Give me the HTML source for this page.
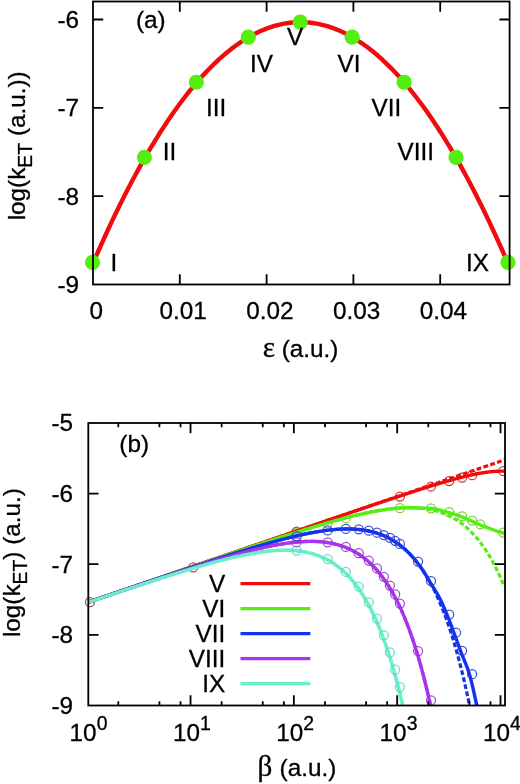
<!DOCTYPE html>
<html><head><meta charset="utf-8"><title>Figure</title>
<style>
html,body{margin:0;padding:0;background:#fff;}
body{width:520px;height:784px;overflow:hidden;}
svg{display:block;}
text{font-family:"Liberation Sans",sans-serif;font-size:24.3px;fill:#000;stroke:#000;stroke-width:0.3px;}
.sym{font-family:"Liberation Serif",serif;}
.ax{stroke:#000;stroke-width:1.8;fill:none;}
</style></head><body>
<svg width="520" height="784" viewBox="0 0 520 784">
<rect x="0" y="0" width="520" height="784" fill="#fff"/>

<g id="plot-a">
<path d="M93.40,262.46 L95.47,257.68 L97.54,252.95 L99.61,248.26 L101.68,243.62 L103.75,239.03 L105.82,234.49 L107.90,230.00 L109.97,225.55 L112.04,221.15 L114.11,216.80 L116.18,212.50 L118.25,208.25 L120.32,204.04 L122.39,199.89 L124.46,195.78 L126.53,191.71 L128.60,187.70 L130.67,183.74 L132.74,179.82 L134.81,175.95 L136.89,172.13 L138.96,168.36 L141.03,164.63 L143.10,160.95 L145.17,157.33 L147.24,153.75 L149.31,150.21 L151.38,146.73 L153.45,143.29 L155.52,139.90 L157.59,136.56 L159.66,133.27 L161.73,130.03 L163.80,126.83 L165.88,123.68 L167.95,120.58 L170.02,117.53 L172.09,114.53 L174.16,111.57 L176.23,108.66 L178.30,105.80 L180.37,102.99 L182.44,100.23 L184.51,97.51 L186.58,94.84 L188.65,92.23 L190.72,89.65 L192.79,87.13 L194.87,84.66 L196.94,82.23 L199.01,79.85 L201.08,77.52 L203.15,75.24 L205.22,73.00 L207.29,70.81 L209.36,68.67 L211.43,66.58 L213.50,64.54 L215.57,62.55 L217.64,60.60 L219.71,58.70 L221.78,56.85 L223.86,55.05 L225.93,53.29 L228.00,51.59 L230.07,49.93 L232.14,48.32 L234.21,46.76 L236.28,45.24 L238.35,43.78 L240.42,42.36 L242.49,40.99 L244.56,39.67 L246.63,38.40 L248.70,37.17 L250.77,35.99 L252.85,34.86 L254.92,33.78 L256.99,32.75 L259.06,31.76 L261.13,30.83 L263.20,29.94 L265.27,29.10 L267.34,28.30 L269.41,27.56 L271.48,26.86 L273.55,26.21 L275.62,25.61 L277.69,25.06 L279.76,24.55 L281.84,24.10 L283.91,23.69 L285.98,23.33 L288.05,23.02 L290.12,22.75 L292.19,22.53 L294.26,22.37 L296.33,22.25 L298.40,22.17 L300.47,22.15 L302.54,22.17 L304.61,22.25 L306.68,22.37 L308.75,22.53 L310.83,22.75 L312.90,23.02 L314.97,23.33 L317.04,23.69 L319.11,24.10 L321.18,24.55 L323.25,25.06 L325.32,25.61 L327.39,26.21 L329.46,26.86 L331.53,27.56 L333.60,28.30 L335.67,29.10 L337.74,29.94 L339.82,30.83 L341.89,31.76 L343.96,32.75 L346.03,33.78 L348.10,34.86 L350.17,35.99 L352.24,37.17 L354.31,38.40 L356.38,39.67 L358.45,40.99 L360.52,42.36 L362.59,43.78 L364.66,45.24 L366.74,46.76 L368.81,48.32 L370.88,49.93 L372.95,51.59 L375.02,53.29 L377.09,55.05 L379.16,56.85 L381.23,58.70 L383.30,60.60 L385.37,62.55 L387.44,64.54 L389.51,66.58 L391.58,68.67 L393.65,70.81 L395.73,73.00 L397.80,75.24 L399.87,77.52 L401.94,79.85 L404.01,82.23 L406.08,84.66 L408.15,87.13 L410.22,89.65 L412.29,92.23 L414.36,94.84 L416.43,97.51 L418.50,100.23 L420.57,102.99 L422.64,105.80 L424.72,108.66 L426.79,111.57 L428.86,114.53 L430.93,117.53 L433.00,120.58 L435.07,123.68 L437.14,126.83 L439.21,130.03 L441.28,133.27 L443.35,136.56 L445.42,139.90 L447.49,143.29 L449.56,146.73 L451.63,150.21 L453.71,153.75 L455.78,157.33 L457.85,160.95 L459.92,164.63 L461.99,168.36 L464.06,172.13 L466.13,175.95 L468.20,179.82 L470.27,183.74 L472.34,187.70 L474.41,191.71 L476.48,195.78 L478.55,199.89 L480.62,204.04 L482.70,208.25 L484.77,212.50 L486.84,216.80 L488.91,221.15 L490.98,225.55 L493.05,230.00 L495.12,234.49 L497.19,239.03 L499.26,243.62 L501.33,248.26 L503.40,252.95 L505.47,257.68 L507.54,262.46" fill="none" stroke="#f00c0c" stroke-width="4.4" stroke-linejoin="round"/>
<circle cx="92.50" cy="262.46" r="7.6" fill="#55ee11"/>
<circle cx="144.43" cy="157.33" r="7.6" fill="#55ee11"/>
<circle cx="196.36" cy="82.23" r="7.6" fill="#55ee11"/>
<circle cx="248.29" cy="37.17" r="7.6" fill="#55ee11"/>
<circle cx="300.22" cy="22.15" r="7.6" fill="#55ee11"/>
<circle cx="352.15" cy="37.17" r="7.6" fill="#55ee11"/>
<circle cx="404.08" cy="82.23" r="7.6" fill="#55ee11"/>
<circle cx="456.01" cy="157.33" r="7.6" fill="#55ee11"/>
<circle cx="507.94" cy="262.46" r="7.6" fill="#55ee11"/>
<rect class="ax" x="93.0" y="1.5" width="416.6" height="283.0"/>
<path class="ax" d="M93.0,19.50h10.2M509.6,19.50h-10.2M93.0,107.85h10.2M509.6,107.85h-10.2M93.0,196.20h10.2M509.6,196.20h-10.2M179.80,284.5v-10.2M179.80,1.5v10.2M266.60,284.5v-10.2M266.60,1.5v10.2M353.40,284.5v-10.2M353.40,1.5v10.2M440.20,284.5v-10.2M440.20,1.5v10.2"/>
<text x="79" y="27.8" text-anchor="end">-6</text>
<text x="79" y="116.1" text-anchor="end">-7</text>
<text x="79" y="204.5" text-anchor="end">-8</text>
<text x="79" y="292.8" text-anchor="end">-9</text>
<text x="96.3" y="319" text-anchor="middle">0</text>
<text x="183.1" y="319" text-anchor="middle">0.01</text>
<text x="269.9" y="319" text-anchor="middle">0.02</text>
<text x="356.7" y="319" text-anchor="middle">0.03</text>
<text x="443.5" y="319" text-anchor="middle">0.04</text>
<text x="110.5" y="270.8">I</text>
<text x="162.7" y="160">II</text>
<text x="206" y="115.8">III</text>
<text x="250" y="71.8">IV</text>
<text x="287" y="44.6">V</text>
<text x="337.5" y="71.8">VI</text>
<text x="371.5" y="115.8">VII</text>
<text x="397.5" y="160">VIII</text>
<text x="466" y="270.8">IX</text>
<text x="136" y="27.5">(a)</text>
<text transform="translate(25.2,220.3) rotate(-90)">log(k<tspan font-size="19.4" dy="7">ET</tspan><tspan dy="-7"> (a.u.))</tspan></text>
<text x="300.5" y="356.5" text-anchor="middle"><tspan class="sym" font-size="29.2">ε</tspan> (a.u.)</text>
</g>
<g id="plot-b">
<clipPath id="cb"><rect x="88.3" y="423.0" width="416.7" height="282.5"/></clipPath>
<g fill="none" stroke="#a03858" stroke-width="1.25" opacity="0.9"><circle cx="89.90" cy="602.16" r="4.5"/><circle cx="193.23" cy="567.29" r="4.5"/></g>
<g clip-path="url(#cb)">
<g fill="none" stroke="#70cc30" stroke-width="1.25" opacity="0.9"><circle cx="296.56" cy="532.71" r="4.5"/><circle cx="327.67" cy="523.27" r="4.5"/><circle cx="345.86" cy="518.25" r="4.5"/><circle cx="399.89" cy="508.14" r="4.5"/><circle cx="431.00" cy="508.30" r="4.5"/><circle cx="449.19" cy="512.20" r="4.5"/><circle cx="462.10" cy="516.33" r="4.5"/><circle cx="472.11" cy="520.57" r="4.5"/><circle cx="480.30" cy="524.30" r="4.5"/><circle cx="503.22" cy="532.56" r="4.5"/></g>
<g fill="none" stroke="#d82020" stroke-width="1.25" opacity="0.9"><circle cx="296.56" cy="531.52" r="4.5"/><circle cx="399.89" cy="496.53" r="4.5"/><circle cx="431.00" cy="486.50" r="4.5"/><circle cx="449.19" cy="481.05" r="4.5"/><circle cx="462.10" cy="477.54" r="4.5"/><circle cx="472.11" cy="475.15" r="4.5"/><circle cx="503.22" cy="471.11" r="4.5"/></g>
<path d="M88.3,602.11 L89.3,601.77 L90.3,601.43 L91.3,601.09 L92.3,600.75 L93.3,600.40 L94.3,600.06 L95.3,599.72 L96.3,599.38 L97.3,599.04 L98.3,598.70 L99.3,598.35 L100.3,598.01 L101.3,597.67 L102.3,597.33 L103.3,596.99 L104.3,596.65 L105.3,596.30 L106.3,595.96 L107.3,595.62 L108.3,595.28 L109.3,594.94 L110.3,594.60 L111.3,594.25 L112.3,593.91 L113.3,593.57 L114.3,593.23 L115.3,592.89 L116.3,592.55 L117.3,592.21 L118.3,591.86 L119.3,591.52 L120.3,591.18 L121.3,590.84 L122.3,590.50 L123.3,590.16 L124.3,589.81 L125.3,589.47 L126.3,589.13 L127.3,588.79 L128.3,588.45 L129.3,588.11 L130.3,587.76 L131.3,587.42 L132.3,587.08 L133.3,586.74 L134.3,586.40 L135.3,586.06 L136.3,585.71 L137.3,585.37 L138.3,585.03 L139.3,584.69 L140.3,584.35 L141.3,584.01 L142.3,583.66 L143.3,583.32 L144.3,582.98 L145.3,582.64 L146.3,582.30 L147.3,581.96 L148.3,581.61 L149.3,581.27 L150.3,580.93 L151.3,580.59 L152.3,580.25 L153.3,579.91 L154.3,579.57 L155.3,579.22 L156.3,578.88 L157.3,578.54 L158.3,578.20 L159.3,577.86 L160.3,577.52 L161.3,577.17 L162.3,576.83 L163.3,576.49 L164.3,576.15 L165.3,575.81 L166.3,575.47 L167.3,575.12 L168.3,574.78 L169.3,574.44 L170.3,574.10 L171.3,573.76 L172.3,573.42 L173.3,573.07 L174.3,572.73 L175.3,572.39 L176.3,572.05 L177.3,571.71 L178.3,571.37 L179.3,571.02 L180.3,570.68 L181.3,570.34 L182.3,570.00 L183.3,569.66 L184.3,569.32 L185.3,568.97 L186.3,568.63 L187.3,568.29 L188.3,567.95 L189.3,567.61 L190.3,567.27 L191.3,566.92 L192.3,566.58 L193.3,566.24 L194.3,565.90 L195.3,565.56 L196.3,565.22 L197.3,564.88 L198.3,564.53 L199.3,564.19 L200.3,563.85 L201.3,563.51 L202.3,563.17 L203.3,562.83 L204.3,562.48 L205.3,562.14 L206.3,561.80 L207.3,561.46 L208.3,561.12 L209.3,560.78 L210.3,560.43 L211.3,560.09 L212.3,559.75 L213.3,559.41 L214.3,559.07 L215.3,558.73 L216.3,558.38 L217.3,558.04 L218.3,557.70 L219.3,557.36 L220.3,557.02 L221.3,556.68 L222.3,556.33 L223.3,555.99 L224.3,555.65 L225.3,555.31 L226.3,554.97 L227.3,554.63 L228.3,554.28 L229.3,553.94 L230.3,553.60 L231.3,553.26 L232.3,552.92 L233.3,552.58 L234.3,552.24 L235.3,551.89 L236.3,551.55 L237.3,551.21 L238.3,550.87 L239.3,550.53 L240.3,550.19 L241.3,549.84 L242.3,549.50 L243.3,549.16 L244.3,548.82 L245.3,548.48 L246.3,548.14 L247.3,547.79 L248.3,547.45 L249.3,547.11 L250.3,546.77 L251.3,546.43 L252.3,546.09 L253.3,545.74 L254.3,545.40 L255.3,545.06 L256.3,544.72 L257.3,544.38 L258.3,544.04 L259.3,543.69 L260.3,543.35 L261.3,543.01 L262.3,542.67 L263.3,542.33 L264.3,541.99 L265.3,541.64 L266.3,541.30 L267.3,540.96 L268.3,540.62 L269.3,540.28 L270.3,539.94 L271.3,539.60 L272.3,539.25 L273.3,538.91 L274.3,538.57 L275.3,538.23 L276.3,537.89 L277.3,537.55 L278.3,537.20 L279.3,536.86 L280.3,536.52 L281.3,536.18 L282.3,535.84 L283.3,535.50 L284.3,535.15 L285.3,534.81 L286.3,534.47 L287.3,534.13 L288.3,533.79 L289.3,533.45 L290.3,533.10 L291.3,532.76 L292.3,532.42 L293.3,532.08 L294.3,531.74 L295.3,531.40 L296.3,531.05 L297.3,530.71 L298.3,530.37 L299.3,530.03 L300.3,529.69 L301.3,529.35 L302.3,529.00 L303.3,528.66 L304.3,528.32 L305.3,527.98 L306.3,527.64 L307.3,527.30 L308.3,526.95 L309.3,526.61 L310.3,526.27 L311.3,525.93 L312.3,525.59 L313.3,525.25 L314.3,524.91 L315.3,524.56 L316.3,524.22 L317.3,523.88 L318.3,523.54 L319.3,523.20 L320.3,522.86 L321.3,522.51 L322.3,522.17 L323.3,521.83 L324.3,521.49 L325.3,521.15 L326.3,520.81 L327.3,520.46 L328.3,520.12 L329.3,519.78 L330.3,519.44 L331.3,519.10 L332.3,518.76 L333.3,518.41 L334.3,518.07 L335.3,517.73 L336.3,517.39 L337.3,517.05 L338.3,516.71 L339.3,516.36 L340.3,516.02 L341.3,515.68 L342.3,515.34 L343.3,515.00 L344.3,514.66 L345.3,514.31 L346.3,513.97 L347.3,513.63 L348.3,513.29 L349.3,512.95 L350.3,512.61 L351.3,512.27 L352.3,511.92 L353.3,511.58 L354.3,511.24 L355.3,510.90 L356.3,510.56 L357.3,510.22 L358.3,509.87 L359.3,509.53 L360.3,509.19 L361.3,508.85 L362.3,508.51 L363.3,508.17 L364.3,507.82 L365.3,507.48 L366.3,507.14 L367.3,506.80 L368.3,506.46 L369.3,506.12 L370.3,505.77 L371.3,505.43 L372.3,505.09 L373.3,504.75 L374.3,504.41 L375.3,504.07 L376.3,503.72 L377.3,503.38 L378.3,503.04 L379.3,502.70 L380.3,502.36 L381.3,502.02 L382.3,501.67 L383.3,501.33 L384.3,500.99 L385.3,500.65 L386.3,500.31 L387.3,499.97 L388.3,499.63 L389.3,499.28 L390.3,498.94 L391.3,498.60 L392.3,498.26 L393.3,497.92 L394.3,497.58 L395.3,497.23 L396.3,496.89 L397.3,496.55 L398.3,496.21 L399.3,495.87 L400.3,495.53 L401.3,495.18 L402.3,494.84 L403.3,494.50 L404.3,494.16 L405.3,493.82 L406.3,493.48 L407.3,493.13 L408.3,492.79 L409.3,492.45 L410.3,492.11 L411.3,491.77 L412.3,491.43 L413.3,491.08 L414.3,490.74 L415.3,490.40 L416.3,490.06 L417.3,489.72 L418.3,489.38 L419.3,489.03 L420.3,488.69 L421.3,488.35 L422.3,488.01 L423.3,487.67 L424.3,487.33 L425.3,486.98 L426.3,486.64 L427.3,486.30 L428.3,485.96 L429.3,485.62 L430.3,485.28 L431.3,484.94 L432.3,484.59 L433.3,484.25 L434.3,483.91 L435.3,483.57 L436.3,483.23 L437.3,482.89 L438.3,482.54 L439.3,482.20 L440.3,481.86 L441.3,481.52 L442.3,481.18 L443.3,480.84 L444.3,480.49 L445.3,480.15 L446.3,479.81 L447.3,479.47 L448.3,479.13 L449.3,478.79 L450.3,478.44 L451.3,478.10 L452.3,477.76 L453.3,477.42 L454.3,477.08 L455.3,476.74 L456.3,476.39 L457.3,476.05 L458.3,475.71 L459.3,475.37 L460.3,475.03 L461.3,474.69 L462.3,474.34 L463.3,474.00 L464.3,473.66 L465.3,473.32 L466.3,472.98 L467.3,472.64 L468.3,472.30 L469.3,471.95 L470.3,471.61 L471.3,471.27 L472.3,470.93 L473.3,470.59 L474.3,470.25 L475.3,469.90 L476.3,469.56 L477.3,469.22 L478.3,468.88 L479.3,468.54 L480.3,468.20 L481.3,467.85 L482.3,467.51 L483.3,467.17 L484.3,466.83 L485.3,466.49 L486.3,466.15 L487.3,465.80 L488.3,465.46 L489.3,465.12 L490.3,464.78 L491.3,464.44 L492.3,464.10 L493.3,463.75 L494.3,463.41 L495.3,463.07 L496.3,462.73 L497.3,462.39 L498.3,462.05 L499.3,461.70 L500.3,461.36 L501.3,461.02 L502.3,460.68 L503.3,460.34 L504.3,460.00" fill="none" stroke="#f00c0c" stroke-width="3.2" stroke-dasharray="4.8,2.4"/>
<path d="M88.3,602.12 L89.3,601.78 L90.3,601.44 L91.3,601.10 L92.3,600.76 L93.3,600.42 L94.3,600.08 L95.3,599.73 L96.3,599.39 L97.3,599.05 L98.3,598.71 L99.3,598.37 L100.3,598.03 L101.3,597.69 L102.3,597.35 L103.3,597.00 L104.3,596.66 L105.3,596.32 L106.3,595.98 L107.3,595.64 L108.3,595.30 L109.3,594.96 L110.3,594.62 L111.3,594.27 L112.3,593.93 L113.3,593.59 L114.3,593.25 L115.3,592.91 L116.3,592.57 L117.3,592.23 L118.3,591.89 L119.3,591.55 L120.3,591.20 L121.3,590.86 L122.3,590.52 L123.3,590.18 L124.3,589.84 L125.3,589.50 L126.3,589.16 L127.3,588.82 L128.3,588.48 L129.3,588.14 L130.3,587.79 L131.3,587.45 L132.3,587.11 L133.3,586.77 L134.3,586.43 L135.3,586.09 L136.3,585.75 L137.3,585.41 L138.3,585.07 L139.3,584.73 L140.3,584.39 L141.3,584.05 L142.3,583.70 L143.3,583.36 L144.3,583.02 L145.3,582.68 L146.3,582.34 L147.3,582.00 L148.3,581.66 L149.3,581.32 L150.3,580.98 L151.3,580.64 L152.3,580.30 L153.3,579.96 L154.3,579.62 L155.3,579.28 L156.3,578.94 L157.3,578.60 L158.3,578.26 L159.3,577.91 L160.3,577.57 L161.3,577.23 L162.3,576.89 L163.3,576.55 L164.3,576.21 L165.3,575.87 L166.3,575.53 L167.3,575.19 L168.3,574.85 L169.3,574.51 L170.3,574.17 L171.3,573.83 L172.3,573.49 L173.3,573.15 L174.3,572.81 L175.3,572.47 L176.3,572.13 L177.3,571.79 L178.3,571.45 L179.3,571.12 L180.3,570.78 L181.3,570.44 L182.3,570.10 L183.3,569.76 L184.3,569.42 L185.3,569.08 L186.3,568.74 L187.3,568.40 L188.3,568.06 L189.3,567.72 L190.3,567.38 L191.3,567.04 L192.3,566.70 L193.3,566.37 L194.3,566.03 L195.3,565.69 L196.3,565.35 L197.3,565.01 L198.3,564.67 L199.3,564.33 L200.3,564.00 L201.3,563.66 L202.3,563.32 L203.3,562.98 L204.3,562.64 L205.3,562.30 L206.3,561.97 L207.3,561.63 L208.3,561.29 L209.3,560.95 L210.3,560.61 L211.3,560.28 L212.3,559.94 L213.3,559.60 L214.3,559.27 L215.3,558.93 L216.3,558.59 L217.3,558.25 L218.3,557.92 L219.3,557.58 L220.3,557.24 L221.3,556.91 L222.3,556.57 L223.3,556.23 L224.3,555.90 L225.3,555.56 L226.3,555.23 L227.3,554.89 L228.3,554.55 L229.3,554.22 L230.3,553.88 L231.3,553.55 L232.3,553.21 L233.3,552.88 L234.3,552.54 L235.3,552.21 L236.3,551.87 L237.3,551.54 L238.3,551.21 L239.3,550.87 L240.3,550.54 L241.3,550.20 L242.3,549.87 L243.3,549.54 L244.3,549.20 L245.3,548.87 L246.3,548.54 L247.3,548.21 L248.3,547.87 L249.3,547.54 L250.3,547.21 L251.3,546.88 L252.3,546.55 L253.3,546.22 L254.3,545.88 L255.3,545.55 L256.3,545.22 L257.3,544.89 L258.3,544.56 L259.3,544.23 L260.3,543.90 L261.3,543.57 L262.3,543.25 L263.3,542.92 L264.3,542.59 L265.3,542.26 L266.3,541.93 L267.3,541.61 L268.3,541.28 L269.3,540.95 L270.3,540.63 L271.3,540.30 L272.3,539.97 L273.3,539.65 L274.3,539.32 L275.3,539.00 L276.3,538.67 L277.3,538.35 L278.3,538.03 L279.3,537.70 L280.3,537.38 L281.3,537.06 L282.3,536.74 L283.3,536.42 L284.3,536.09 L285.3,535.77 L286.3,535.45 L287.3,535.13 L288.3,534.82 L289.3,534.50 L290.3,534.18 L291.3,533.86 L292.3,533.55 L293.3,533.23 L294.3,532.91 L295.3,532.60 L296.3,532.28 L297.3,531.97 L298.3,531.66 L299.3,531.34 L300.3,531.03 L301.3,530.72 L302.3,530.41 L303.3,530.10 L304.3,529.79 L305.3,529.48 L306.3,529.17 L307.3,528.87 L308.3,528.56 L309.3,528.26 L310.3,527.95 L311.3,527.65 L312.3,527.34 L313.3,527.04 L314.3,526.74 L315.3,526.44 L316.3,526.14 L317.3,525.84 L318.3,525.55 L319.3,525.25 L320.3,524.95 L321.3,524.66 L322.3,524.37 L323.3,524.07 L324.3,523.78 L325.3,523.49 L326.3,523.20 L327.3,522.92 L328.3,522.63 L329.3,522.35 L330.3,522.06 L331.3,521.78 L332.3,521.50 L333.3,521.22 L334.3,520.94 L335.3,520.66 L336.3,520.39 L337.3,520.11 L338.3,519.84 L339.3,519.57 L340.3,519.30 L341.3,519.03 L342.3,518.77 L343.3,518.50 L344.3,518.24 L345.3,517.98 L346.3,517.72 L347.3,517.46 L348.3,517.21 L349.3,516.95 L350.3,516.70 L351.3,516.45 L352.3,516.21 L353.3,515.96 L354.3,515.72 L355.3,515.48 L356.3,515.24 L357.3,515.00 L358.3,514.77 L359.3,514.54 L360.3,514.31 L361.3,514.08 L362.3,513.86 L363.3,513.64 L364.3,513.42 L365.3,513.20 L366.3,512.99 L367.3,512.78 L368.3,512.57 L369.3,512.37 L370.3,512.17 L371.3,511.97 L372.3,511.78 L373.3,511.59 L374.3,511.40 L375.3,511.21 L376.3,511.03 L377.3,510.86 L378.3,510.68 L379.3,510.51 L380.3,510.35 L381.3,510.19 L382.3,510.03 L383.3,509.88 L384.3,509.73 L385.3,509.58 L386.3,509.44 L387.3,509.31 L388.3,509.18 L389.3,509.05 L390.3,508.93 L391.3,508.81 L392.3,508.70 L393.3,508.59 L394.3,508.49 L395.3,508.40 L396.3,508.31 L397.3,508.22 L398.3,508.14 L399.3,508.07 L400.3,508.00 L401.3,507.94 L402.3,507.89 L403.3,507.84 L404.3,507.80 L405.3,507.77 L406.3,507.74 L407.3,507.72 L408.3,507.71 L409.3,507.70 L410.3,507.70 L411.3,507.71 L412.3,507.73 L413.3,507.76 L414.3,507.79 L415.3,507.83 L416.3,507.88 L417.3,507.94 L418.3,508.01 L419.3,508.09 L420.3,508.18 L421.3,508.28 L422.3,508.38 L423.3,508.50 L424.3,508.63 L425.3,508.77 L426.3,508.92 L427.3,509.08 L428.3,509.25 L429.3,509.43 L430.3,509.63 L431.3,509.83 L432.3,510.05 L433.3,510.28 L434.3,510.53 L435.3,510.79 L436.3,511.06 L437.3,511.34 L438.3,511.64 L439.3,511.96 L440.3,512.29 L441.3,512.63 L442.3,512.99 L443.3,513.37 L444.3,513.76 L445.3,514.17 L446.3,514.59 L447.3,515.03 L448.3,515.49 L449.3,515.97 L450.3,516.47 L451.3,516.98 L452.3,517.52 L453.3,518.07 L454.3,518.64 L455.3,519.24 L456.3,519.86 L457.3,520.49 L458.3,521.15 L459.3,521.84 L460.3,522.54 L461.3,523.27 L462.3,524.02 L463.3,524.80 L464.3,525.60 L465.3,526.43 L466.3,527.29 L467.3,528.17 L468.3,529.08 L469.3,530.02 L470.3,530.98 L471.3,531.98 L472.3,533.01 L473.3,534.06 L474.3,535.15 L475.3,536.27 L476.3,537.43 L477.3,538.62 L478.3,539.84 L479.3,541.10 L480.3,542.39 L481.3,543.72 L482.3,545.09 L483.3,546.49 L484.3,547.94 L485.3,549.42 L486.3,550.95 L487.3,552.52 L488.3,554.13 L489.3,555.79 L490.3,557.49 L491.3,559.24 L492.3,561.03 L493.3,562.88 L494.3,564.77 L495.3,566.71 L496.3,568.71 L497.3,570.75 L498.3,572.85 L499.3,575.01 L500.3,577.22 L501.3,579.49 L502.3,581.82 L503.3,584.20 L504.3,586.65" fill="none" stroke="#55ee11" stroke-width="3.2" stroke-dasharray="4.8,2.4"/>
<path d="M88.3,602.16 L89.3,601.82 L90.3,601.48 L91.3,601.14 L92.3,600.80 L93.3,600.46 L94.3,600.12 L95.3,599.78 L96.3,599.44 L97.3,599.10 L98.3,598.76 L99.3,598.42 L100.3,598.08 L101.3,597.73 L102.3,597.39 L103.3,597.05 L104.3,596.71 L105.3,596.37 L106.3,596.03 L107.3,595.69 L108.3,595.35 L109.3,595.01 L110.3,594.67 L111.3,594.33 L112.3,593.99 L113.3,593.65 L114.3,593.32 L115.3,592.98 L116.3,592.64 L117.3,592.30 L118.3,591.96 L119.3,591.62 L120.3,591.28 L121.3,590.94 L122.3,590.60 L123.3,590.26 L124.3,589.92 L125.3,589.58 L126.3,589.24 L127.3,588.90 L128.3,588.56 L129.3,588.22 L130.3,587.89 L131.3,587.55 L132.3,587.21 L133.3,586.87 L134.3,586.53 L135.3,586.19 L136.3,585.85 L137.3,585.51 L138.3,585.18 L139.3,584.84 L140.3,584.50 L141.3,584.16 L142.3,583.82 L143.3,583.49 L144.3,583.15 L145.3,582.81 L146.3,582.47 L147.3,582.13 L148.3,581.80 L149.3,581.46 L150.3,581.12 L151.3,580.78 L152.3,580.45 L153.3,580.11 L154.3,579.77 L155.3,579.44 L156.3,579.10 L157.3,578.76 L158.3,578.43 L159.3,578.09 L160.3,577.75 L161.3,577.42 L162.3,577.08 L163.3,576.74 L164.3,576.41 L165.3,576.07 L166.3,575.74 L167.3,575.40 L168.3,575.07 L169.3,574.73 L170.3,574.40 L171.3,574.06 L172.3,573.73 L173.3,573.39 L174.3,573.06 L175.3,572.72 L176.3,572.39 L177.3,572.05 L178.3,571.72 L179.3,571.39 L180.3,571.05 L181.3,570.72 L182.3,570.39 L183.3,570.05 L184.3,569.72 L185.3,569.39 L186.3,569.06 L187.3,568.72 L188.3,568.39 L189.3,568.06 L190.3,567.73 L191.3,567.40 L192.3,567.07 L193.3,566.74 L194.3,566.41 L195.3,566.08 L196.3,565.75 L197.3,565.42 L198.3,565.09 L199.3,564.76 L200.3,564.43 L201.3,564.10 L202.3,563.77 L203.3,563.44 L204.3,563.12 L205.3,562.79 L206.3,562.46 L207.3,562.14 L208.3,561.81 L209.3,561.48 L210.3,561.16 L211.3,560.83 L212.3,560.51 L213.3,560.18 L214.3,559.86 L215.3,559.53 L216.3,559.21 L217.3,558.89 L218.3,558.57 L219.3,558.24 L220.3,557.92 L221.3,557.60 L222.3,557.28 L223.3,556.96 L224.3,556.64 L225.3,556.32 L226.3,556.00 L227.3,555.68 L228.3,555.37 L229.3,555.05 L230.3,554.73 L231.3,554.42 L232.3,554.10 L233.3,553.78 L234.3,553.47 L235.3,553.16 L236.3,552.84 L237.3,552.53 L238.3,552.22 L239.3,551.91 L240.3,551.60 L241.3,551.29 L242.3,550.98 L243.3,550.67 L244.3,550.36 L245.3,550.06 L246.3,549.75 L247.3,549.44 L248.3,549.14 L249.3,548.84 L250.3,548.53 L251.3,548.23 L252.3,547.93 L253.3,547.63 L254.3,547.33 L255.3,547.03 L256.3,546.74 L257.3,546.44 L258.3,546.14 L259.3,545.85 L260.3,545.56 L261.3,545.27 L262.3,544.97 L263.3,544.68 L264.3,544.40 L265.3,544.11 L266.3,543.82 L267.3,543.54 L268.3,543.25 L269.3,542.97 L270.3,542.69 L271.3,542.41 L272.3,542.13 L273.3,541.86 L274.3,541.58 L275.3,541.31 L276.3,541.04 L277.3,540.77 L278.3,540.50 L279.3,540.23 L280.3,539.96 L281.3,539.70 L282.3,539.44 L283.3,539.18 L284.3,538.92 L285.3,538.66 L286.3,538.41 L287.3,538.15 L288.3,537.90 L289.3,537.65 L290.3,537.41 L291.3,537.16 L292.3,536.92 L293.3,536.68 L294.3,536.44 L295.3,536.20 L296.3,535.97 L297.3,535.74 L298.3,535.51 L299.3,535.29 L300.3,535.06 L301.3,534.84 L302.3,534.63 L303.3,534.41 L304.3,534.20 L305.3,533.99 L306.3,533.78 L307.3,533.58 L308.3,533.38 L309.3,533.18 L310.3,532.99 L311.3,532.80 L312.3,532.61 L313.3,532.43 L314.3,532.25 L315.3,532.07 L316.3,531.90 L317.3,531.73 L318.3,531.57 L319.3,531.41 L320.3,531.25 L321.3,531.10 L322.3,530.95 L323.3,530.81 L324.3,530.67 L325.3,530.53 L326.3,530.40 L327.3,530.28 L328.3,530.15 L329.3,530.04 L330.3,529.93 L331.3,529.82 L332.3,529.72 L333.3,529.63 L334.3,529.54 L335.3,529.46 L336.3,529.38 L337.3,529.31 L338.3,529.24 L339.3,529.18 L340.3,529.13 L341.3,529.08 L342.3,529.05 L343.3,529.01 L344.3,528.99 L345.3,528.97 L346.3,528.96 L347.3,528.95 L348.3,528.96 L349.3,528.97 L350.3,528.99 L351.3,529.01 L352.3,529.05 L353.3,529.09 L354.3,529.15 L355.3,529.21 L356.3,529.28 L357.3,529.36 L358.3,529.45 L359.3,529.55 L360.3,529.66 L361.3,529.78 L362.3,529.91 L363.3,530.05 L364.3,530.20 L365.3,530.36 L366.3,530.54 L367.3,530.72 L368.3,530.92 L369.3,531.13 L370.3,531.35 L371.3,531.59 L372.3,531.84 L373.3,532.10 L374.3,532.37 L375.3,532.66 L376.3,532.96 L377.3,533.28 L378.3,533.61 L379.3,533.96 L380.3,534.32 L381.3,534.70 L382.3,535.09 L383.3,535.51 L384.3,535.93 L385.3,536.38 L386.3,536.84 L387.3,537.33 L388.3,537.83 L389.3,538.34 L390.3,538.88 L391.3,539.44 L392.3,540.02 L393.3,540.62 L394.3,541.24 L395.3,541.88 L396.3,542.55 L397.3,543.23 L398.3,543.95 L399.3,544.68 L400.3,545.44 L401.3,546.22 L402.3,547.03 L403.3,547.86 L404.3,548.72 L405.3,549.61 L406.3,550.53 L407.3,551.47 L408.3,552.44 L409.3,553.45 L410.3,554.48 L411.3,555.54 L412.3,556.64 L413.3,557.77 L414.3,558.93 L415.3,560.12 L416.3,561.35 L417.3,562.62 L418.3,563.92 L419.3,565.26 L420.3,566.63 L421.3,568.05 L422.3,569.50 L423.3,571.00 L424.3,572.53 L425.3,574.11 L426.3,575.73 L427.3,577.40 L428.3,579.11 L429.3,580.87 L430.3,582.67 L431.3,584.52 L432.3,586.43 L433.3,588.38 L434.3,590.39 L435.3,592.44 L436.3,594.55 L437.3,596.72 L438.3,598.95 L439.3,601.23 L440.3,603.57 L441.3,605.97 L442.3,608.43 L443.3,610.96 L444.3,613.55 L445.3,616.20 L446.3,618.93 L447.3,621.72 L448.3,624.58 L449.3,627.52 L450.3,630.53 L451.3,633.62 L452.3,636.78 L453.3,640.02 L454.3,643.34 L455.3,646.75 L456.3,650.24 L457.3,653.81 L458.3,657.48 L459.3,661.23 L460.3,665.08 L461.3,669.02 L462.3,673.06 L463.3,677.19 L464.3,681.43 L465.3,685.77 L466.3,690.22 L467.3,694.77 L468.3,699.43 L469.3,704.21 L470.3,709.10 L471.3,714.11 L472.3,719.24 L473.3,724.50 L474.3,729.88" fill="none" stroke="#1133ee" stroke-width="3.2" stroke-dasharray="4.8,2.4"/>
<path d="M88.3,602.22 L89.3,601.88 L90.3,601.54 L91.3,601.20 L92.3,600.86 L93.3,600.52 L94.3,600.19 L95.3,599.85 L96.3,599.51 L97.3,599.17 L98.3,598.83 L99.3,598.49 L100.3,598.15 L101.3,597.81 L102.3,597.48 L103.3,597.14 L104.3,596.80 L105.3,596.46 L106.3,596.12 L107.3,595.79 L108.3,595.45 L109.3,595.11 L110.3,594.77 L111.3,594.43 L112.3,594.10 L113.3,593.76 L114.3,593.42 L115.3,593.08 L116.3,592.75 L117.3,592.41 L118.3,592.07 L119.3,591.74 L120.3,591.40 L121.3,591.06 L122.3,590.73 L123.3,590.39 L124.3,590.05 L125.3,589.72 L126.3,589.38 L127.3,589.04 L128.3,588.71 L129.3,588.37 L130.3,588.04 L131.3,587.70 L132.3,587.37 L133.3,587.03 L134.3,586.70 L135.3,586.36 L136.3,586.03 L137.3,585.69 L138.3,585.36 L139.3,585.02 L140.3,584.69 L141.3,584.36 L142.3,584.02 L143.3,583.69 L144.3,583.36 L145.3,583.02 L146.3,582.69 L147.3,582.36 L148.3,582.02 L149.3,581.69 L150.3,581.36 L151.3,581.03 L152.3,580.70 L153.3,580.36 L154.3,580.03 L155.3,579.70 L156.3,579.37 L157.3,579.04 L158.3,578.71 L159.3,578.38 L160.3,578.05 L161.3,577.72 L162.3,577.39 L163.3,577.06 L164.3,576.73 L165.3,576.40 L166.3,576.08 L167.3,575.75 L168.3,575.42 L169.3,575.09 L170.3,574.77 L171.3,574.44 L172.3,574.11 L173.3,573.79 L174.3,573.46 L175.3,573.14 L176.3,572.81 L177.3,572.49 L178.3,572.16 L179.3,571.84 L180.3,571.52 L181.3,571.19 L182.3,570.87 L183.3,570.55 L184.3,570.23 L185.3,569.91 L186.3,569.59 L187.3,569.27 L188.3,568.95 L189.3,568.63 L190.3,568.31 L191.3,567.99 L192.3,567.67 L193.3,567.36 L194.3,567.04 L195.3,566.72 L196.3,566.41 L197.3,566.09 L198.3,565.78 L199.3,565.47 L200.3,565.15 L201.3,564.84 L202.3,564.53 L203.3,564.22 L204.3,563.91 L205.3,563.60 L206.3,563.29 L207.3,562.98 L208.3,562.67 L209.3,562.37 L210.3,562.06 L211.3,561.76 L212.3,561.45 L213.3,561.15 L214.3,560.85 L215.3,560.55 L216.3,560.25 L217.3,559.95 L218.3,559.65 L219.3,559.35 L220.3,559.05 L221.3,558.76 L222.3,558.46 L223.3,558.17 L224.3,557.88 L225.3,557.58 L226.3,557.29 L227.3,557.00 L228.3,556.72 L229.3,556.43 L230.3,556.14 L231.3,555.86 L232.3,555.58 L233.3,555.29 L234.3,555.01 L235.3,554.74 L236.3,554.46 L237.3,554.18 L238.3,553.91 L239.3,553.63 L240.3,553.36 L241.3,553.09 L242.3,552.82 L243.3,552.56 L244.3,552.29 L245.3,552.03 L246.3,551.77 L247.3,551.51 L248.3,551.25 L249.3,550.99 L250.3,550.74 L251.3,550.49 L252.3,550.24 L253.3,549.99 L254.3,549.74 L255.3,549.50 L256.3,549.26 L257.3,549.02 L258.3,548.78 L259.3,548.55 L260.3,548.31 L261.3,548.08 L262.3,547.86 L263.3,547.63 L264.3,547.41 L265.3,547.19 L266.3,546.97 L267.3,546.76 L268.3,546.55 L269.3,546.34 L270.3,546.14 L271.3,545.93 L272.3,545.73 L273.3,545.54 L274.3,545.35 L275.3,545.16 L276.3,544.97 L277.3,544.79 L278.3,544.61 L279.3,544.44 L280.3,544.27 L281.3,544.10 L282.3,543.94 L283.3,543.78 L284.3,543.62 L285.3,543.47 L286.3,543.32 L287.3,543.18 L288.3,543.04 L289.3,542.91 L290.3,542.78 L291.3,542.66 L292.3,542.54 L293.3,542.43 L294.3,542.32 L295.3,542.22 L296.3,542.12 L297.3,542.03 L298.3,541.94 L299.3,541.86 L300.3,541.78 L301.3,541.71 L302.3,541.65 L303.3,541.59 L304.3,541.54 L305.3,541.50 L306.3,541.46 L307.3,541.43 L308.3,541.41 L309.3,541.39 L310.3,541.39 L311.3,541.39 L312.3,541.39 L313.3,541.41 L314.3,541.43 L315.3,541.46 L316.3,541.50 L317.3,541.55 L318.3,541.60 L319.3,541.67 L320.3,541.74 L321.3,541.83 L322.3,541.92 L323.3,542.02 L324.3,542.14 L325.3,542.26 L326.3,542.39 L327.3,542.54 L328.3,542.70 L329.3,542.86 L330.3,543.04 L331.3,543.23 L332.3,543.43 L333.3,543.65 L334.3,543.87 L335.3,544.11 L336.3,544.37 L337.3,544.63 L338.3,544.91 L339.3,545.21 L340.3,545.52 L341.3,545.84 L342.3,546.18 L343.3,546.53 L344.3,546.90 L345.3,547.28 L346.3,547.69 L347.3,548.10 L348.3,548.54 L349.3,548.99 L350.3,549.46 L351.3,549.95 L352.3,550.46 L353.3,550.99 L354.3,551.53 L355.3,552.10 L356.3,552.68 L357.3,553.29 L358.3,553.92 L359.3,554.57 L360.3,555.25 L361.3,555.94 L362.3,556.66 L363.3,557.40 L364.3,558.17 L365.3,558.97 L366.3,559.78 L367.3,560.63 L368.3,561.50 L369.3,562.40 L370.3,563.33 L371.3,564.28 L372.3,565.27 L373.3,566.28 L374.3,567.32 L375.3,568.40 L376.3,569.51 L377.3,570.65 L378.3,571.82 L379.3,573.03 L380.3,574.28 L381.3,575.55 L382.3,576.87 L383.3,578.22 L384.3,579.61 L385.3,581.04 L386.3,582.51 L387.3,584.02 L388.3,585.58 L389.3,587.17 L390.3,588.81 L391.3,590.49 L392.3,592.22 L393.3,594.00 L394.3,595.82 L395.3,597.69 L396.3,599.62 L397.3,601.59 L398.3,603.62 L399.3,605.69 L400.3,607.83 L401.3,610.02 L402.3,612.26 L403.3,614.57 L404.3,616.93 L405.3,619.36 L406.3,621.84 L407.3,624.39 L408.3,627.01 L409.3,629.69 L410.3,632.44 L411.3,635.26 L412.3,638.16 L413.3,641.12 L414.3,644.16 L415.3,647.28 L416.3,650.47 L417.3,653.74 L418.3,657.10 L419.3,660.53 L420.3,664.06 L421.3,667.67 L422.3,671.37 L423.3,675.16 L424.3,679.04 L425.3,683.02 L426.3,687.09 L427.3,691.27 L428.3,695.55 L429.3,699.93 L430.3,704.42 L431.3,709.01 L432.3,713.72 L433.3,718.54 L434.3,723.48 L435.3,728.54" fill="none" stroke="#aa33ee" stroke-width="3.2" stroke-dasharray="4.8,2.4"/>
<path d="M88.3,602.30 L89.3,601.97 L90.3,601.63 L91.3,601.29 L92.3,600.95 L93.3,600.62 L94.3,600.28 L95.3,599.94 L96.3,599.61 L97.3,599.27 L98.3,598.93 L99.3,598.60 L100.3,598.26 L101.3,597.93 L102.3,597.59 L103.3,597.25 L104.3,596.92 L105.3,596.58 L106.3,596.25 L107.3,595.91 L108.3,595.58 L109.3,595.24 L110.3,594.91 L111.3,594.57 L112.3,594.24 L113.3,593.90 L114.3,593.57 L115.3,593.24 L116.3,592.90 L117.3,592.57 L118.3,592.24 L119.3,591.90 L120.3,591.57 L121.3,591.24 L122.3,590.90 L123.3,590.57 L124.3,590.24 L125.3,589.91 L126.3,589.58 L127.3,589.24 L128.3,588.91 L129.3,588.58 L130.3,588.25 L131.3,587.92 L132.3,587.59 L133.3,587.26 L134.3,586.93 L135.3,586.60 L136.3,586.27 L137.3,585.94 L138.3,585.61 L139.3,585.28 L140.3,584.96 L141.3,584.63 L142.3,584.30 L143.3,583.97 L144.3,583.65 L145.3,583.32 L146.3,582.99 L147.3,582.67 L148.3,582.34 L149.3,582.02 L150.3,581.69 L151.3,581.37 L152.3,581.04 L153.3,580.72 L154.3,580.40 L155.3,580.07 L156.3,579.75 L157.3,579.43 L158.3,579.11 L159.3,578.79 L160.3,578.47 L161.3,578.14 L162.3,577.83 L163.3,577.51 L164.3,577.19 L165.3,576.87 L166.3,576.55 L167.3,576.23 L168.3,575.92 L169.3,575.60 L170.3,575.29 L171.3,574.97 L172.3,574.66 L173.3,574.34 L174.3,574.03 L175.3,573.72 L176.3,573.41 L177.3,573.09 L178.3,572.78 L179.3,572.47 L180.3,572.17 L181.3,571.86 L182.3,571.55 L183.3,571.24 L184.3,570.94 L185.3,570.63 L186.3,570.33 L187.3,570.02 L188.3,569.72 L189.3,569.42 L190.3,569.12 L191.3,568.82 L192.3,568.52 L193.3,568.22 L194.3,567.93 L195.3,567.63 L196.3,567.34 L197.3,567.04 L198.3,566.75 L199.3,566.46 L200.3,566.17 L201.3,565.88 L202.3,565.59 L203.3,565.30 L204.3,565.02 L205.3,564.73 L206.3,564.45 L207.3,564.17 L208.3,563.89 L209.3,563.61 L210.3,563.33 L211.3,563.05 L212.3,562.78 L213.3,562.50 L214.3,562.23 L215.3,561.96 L216.3,561.69 L217.3,561.43 L218.3,561.16 L219.3,560.90 L220.3,560.63 L221.3,560.37 L222.3,560.12 L223.3,559.86 L224.3,559.60 L225.3,559.35 L226.3,559.10 L227.3,558.85 L228.3,558.61 L229.3,558.36 L230.3,558.12 L231.3,557.88 L232.3,557.64 L233.3,557.41 L234.3,557.18 L235.3,556.95 L236.3,556.72 L237.3,556.49 L238.3,556.27 L239.3,556.05 L240.3,555.83 L241.3,555.62 L242.3,555.41 L243.3,555.20 L244.3,554.99 L245.3,554.79 L246.3,554.59 L247.3,554.39 L248.3,554.20 L249.3,554.01 L250.3,553.83 L251.3,553.64 L252.3,553.46 L253.3,553.29 L254.3,553.12 L255.3,552.95 L256.3,552.79 L257.3,552.63 L258.3,552.47 L259.3,552.32 L260.3,552.17 L261.3,552.03 L262.3,551.89 L263.3,551.76 L264.3,551.63 L265.3,551.50 L266.3,551.38 L267.3,551.27 L268.3,551.16 L269.3,551.05 L270.3,550.96 L271.3,550.86 L272.3,550.78 L273.3,550.69 L274.3,550.62 L275.3,550.55 L276.3,550.48 L277.3,550.42 L278.3,550.37 L279.3,550.33 L280.3,550.29 L281.3,550.26 L282.3,550.23 L283.3,550.22 L284.3,550.21 L285.3,550.21 L286.3,550.21 L287.3,550.22 L288.3,550.24 L289.3,550.27 L290.3,550.31 L291.3,550.36 L292.3,550.41 L293.3,550.48 L294.3,550.55 L295.3,550.63 L296.3,550.72 L297.3,550.82 L298.3,550.94 L299.3,551.06 L300.3,551.19 L301.3,551.33 L302.3,551.49 L303.3,551.65 L304.3,551.83 L305.3,552.02 L306.3,552.22 L307.3,552.43 L308.3,552.65 L309.3,552.89 L310.3,553.14 L311.3,553.41 L312.3,553.68 L313.3,553.97 L314.3,554.28 L315.3,554.60 L316.3,554.94 L317.3,555.29 L318.3,555.65 L319.3,556.03 L320.3,556.43 L321.3,556.85 L322.3,557.28 L323.3,557.73 L324.3,558.20 L325.3,558.68 L326.3,559.19 L327.3,559.71 L328.3,560.25 L329.3,560.81 L330.3,561.40 L331.3,562.00 L332.3,562.63 L333.3,563.27 L334.3,563.94 L335.3,564.64 L336.3,565.35 L337.3,566.09 L338.3,566.85 L339.3,567.64 L340.3,568.46 L341.3,569.30 L342.3,570.16 L343.3,571.06 L344.3,571.98 L345.3,572.93 L346.3,573.91 L347.3,574.92 L348.3,575.95 L349.3,577.02 L350.3,578.13 L351.3,579.26 L352.3,580.43 L353.3,581.63 L354.3,582.87 L355.3,584.14 L356.3,585.45 L357.3,586.80 L358.3,588.18 L359.3,589.60 L360.3,591.07 L361.3,592.57 L362.3,594.11 L363.3,595.70 L364.3,597.33 L365.3,599.01 L366.3,600.73 L367.3,602.50 L368.3,604.31 L369.3,606.17 L370.3,608.09 L371.3,610.05 L372.3,612.07 L373.3,614.14 L374.3,616.26 L375.3,618.44 L376.3,620.67 L377.3,622.97 L378.3,625.32 L379.3,627.73 L380.3,630.21 L381.3,632.75 L382.3,635.35 L383.3,638.02 L384.3,640.76 L385.3,643.57 L386.3,646.45 L387.3,649.40 L388.3,652.43 L389.3,655.53 L390.3,658.71 L391.3,661.97 L392.3,665.31 L393.3,668.73 L394.3,672.24 L395.3,675.83 L396.3,679.51 L397.3,683.29 L398.3,687.15 L399.3,691.11 L400.3,695.17 L401.3,699.33 L402.3,703.59 L403.3,707.95 L404.3,712.42 L405.3,717.00 L406.3,721.68 L407.3,726.48" fill="none" stroke="#66f0cc" stroke-width="3.2" stroke-dasharray="4.8,2.4"/>
<path d="M88.3,602.11 L89.3,601.77 L90.3,601.43 L91.3,601.09 L92.3,600.75 L93.3,600.40 L94.3,600.06 L95.3,599.72 L96.3,599.38 L97.3,599.04 L98.3,598.70 L99.3,598.35 L100.3,598.01 L101.3,597.67 L102.3,597.33 L103.3,596.99 L104.3,596.65 L105.3,596.30 L106.3,595.96 L107.3,595.62 L108.3,595.28 L109.3,594.94 L110.3,594.60 L111.3,594.25 L112.3,593.91 L113.3,593.57 L114.3,593.23 L115.3,592.89 L116.3,592.55 L117.3,592.21 L118.3,591.86 L119.3,591.52 L120.3,591.18 L121.3,590.84 L122.3,590.50 L123.3,590.16 L124.3,589.81 L125.3,589.47 L126.3,589.13 L127.3,588.79 L128.3,588.45 L129.3,588.11 L130.3,587.76 L131.3,587.42 L132.3,587.08 L133.3,586.74 L134.3,586.40 L135.3,586.06 L136.3,585.71 L137.3,585.37 L138.3,585.03 L139.3,584.69 L140.3,584.35 L141.3,584.01 L142.3,583.66 L143.3,583.32 L144.3,582.98 L145.3,582.64 L146.3,582.30 L147.3,581.96 L148.3,581.61 L149.3,581.27 L150.3,580.93 L151.3,580.59 L152.3,580.25 L153.3,579.91 L154.3,579.57 L155.3,579.22 L156.3,578.88 L157.3,578.54 L158.3,578.20 L159.3,577.86 L160.3,577.52 L161.3,577.17 L162.3,576.83 L163.3,576.49 L164.3,576.15 L165.3,575.81 L166.3,575.47 L167.3,575.12 L168.3,574.78 L169.3,574.44 L170.3,574.10 L171.3,573.76 L172.3,573.42 L173.3,573.07 L174.3,572.73 L175.3,572.39 L176.3,572.05 L177.3,571.71 L178.3,571.37 L179.3,571.02 L180.3,570.68 L181.3,570.34 L182.3,570.00 L183.3,569.66 L184.3,569.32 L185.3,568.97 L186.3,568.63 L187.3,568.29 L188.3,567.95 L189.3,567.61 L190.3,567.27 L191.3,566.93 L192.3,566.58 L193.3,566.24 L194.3,565.90 L195.3,565.56 L196.3,565.22 L197.3,564.88 L198.3,564.53 L199.3,564.19 L200.3,563.85 L201.3,563.51 L202.3,563.17 L203.3,562.83 L204.3,562.48 L205.3,562.14 L206.3,561.80 L207.3,561.46 L208.3,561.12 L209.3,560.78 L210.3,560.43 L211.3,560.09 L212.3,559.75 L213.3,559.41 L214.3,559.07 L215.3,558.73 L216.3,558.39 L217.3,558.04 L218.3,557.70 L219.3,557.36 L220.3,557.02 L221.3,556.68 L222.3,556.34 L223.3,555.99 L224.3,555.65 L225.3,555.31 L226.3,554.97 L227.3,554.63 L228.3,554.29 L229.3,553.94 L230.3,553.60 L231.3,553.26 L232.3,552.92 L233.3,552.58 L234.3,552.24 L235.3,551.89 L236.3,551.55 L237.3,551.21 L238.3,550.87 L239.3,550.53 L240.3,550.19 L241.3,549.85 L242.3,549.50 L243.3,549.16 L244.3,548.82 L245.3,548.48 L246.3,548.14 L247.3,547.80 L248.3,547.45 L249.3,547.11 L250.3,546.77 L251.3,546.43 L252.3,546.09 L253.3,545.75 L254.3,545.41 L255.3,545.06 L256.3,544.72 L257.3,544.38 L258.3,544.04 L259.3,543.70 L260.3,543.36 L261.3,543.01 L262.3,542.67 L263.3,542.33 L264.3,541.99 L265.3,541.65 L266.3,541.31 L267.3,540.97 L268.3,540.62 L269.3,540.28 L270.3,539.94 L271.3,539.60 L272.3,539.26 L273.3,538.92 L274.3,538.58 L275.3,538.23 L276.3,537.89 L277.3,537.55 L278.3,537.21 L279.3,536.87 L280.3,536.53 L281.3,536.19 L282.3,535.84 L283.3,535.50 L284.3,535.16 L285.3,534.82 L286.3,534.48 L287.3,534.14 L288.3,533.80 L289.3,533.45 L290.3,533.11 L291.3,532.77 L292.3,532.43 L293.3,532.09 L294.3,531.75 L295.3,531.41 L296.3,531.07 L297.3,530.72 L298.3,530.38 L299.3,530.04 L300.3,529.70 L301.3,529.36 L302.3,529.02 L303.3,528.68 L304.3,528.34 L305.3,527.99 L306.3,527.65 L307.3,527.31 L308.3,526.97 L309.3,526.63 L310.3,526.29 L311.3,525.95 L312.3,525.61 L313.3,525.27 L314.3,524.92 L315.3,524.58 L316.3,524.24 L317.3,523.90 L318.3,523.56 L319.3,523.22 L320.3,522.88 L321.3,522.54 L322.3,522.20 L323.3,521.86 L324.3,521.52 L325.3,521.18 L326.3,520.83 L327.3,520.49 L328.3,520.15 L329.3,519.81 L330.3,519.47 L331.3,519.13 L332.3,518.79 L333.3,518.45 L334.3,518.11 L335.3,517.77 L336.3,517.43 L337.3,517.09 L338.3,516.75 L339.3,516.41 L340.3,516.07 L341.3,515.73 L342.3,515.39 L343.3,515.05 L344.3,514.71 L345.3,514.37 L346.3,514.03 L347.3,513.69 L348.3,513.35 L349.3,513.01 L350.3,512.67 L351.3,512.33 L352.3,511.99 L353.3,511.65 L354.3,511.31 L355.3,510.98 L356.3,510.64 L357.3,510.30 L358.3,509.96 L359.3,509.62 L360.3,509.28 L361.3,508.94 L362.3,508.60 L363.3,508.27 L364.3,507.93 L365.3,507.59 L366.3,507.25 L367.3,506.91 L368.3,506.58 L369.3,506.24 L370.3,505.90 L371.3,505.56 L372.3,505.23 L373.3,504.89 L374.3,504.55 L375.3,504.22 L376.3,503.88 L377.3,503.54 L378.3,503.21 L379.3,502.87 L380.3,502.53 L381.3,502.20 L382.3,501.86 L383.3,501.53 L384.3,501.19 L385.3,500.86 L386.3,500.52 L387.3,500.19 L388.3,499.86 L389.3,499.52 L390.3,499.19 L391.3,498.86 L392.3,498.52 L393.3,498.19 L394.3,497.86 L395.3,497.53 L396.3,497.19 L397.3,496.86 L398.3,496.53 L399.3,496.20 L400.3,495.87 L401.3,495.54 L402.3,495.21 L403.3,494.88 L404.3,494.55 L405.3,494.23 L406.3,493.90 L407.3,493.57 L408.3,493.24 L409.3,492.92 L410.3,492.59 L411.3,492.27 L412.3,491.94 L413.3,491.62 L414.3,491.29 L415.3,490.97 L416.3,490.65 L417.3,490.33 L418.3,490.01 L419.3,489.69 L420.3,489.37 L421.3,489.05 L422.3,488.73 L423.3,488.41 L424.3,488.10 L425.3,487.78 L426.3,487.47 L427.3,487.15 L428.3,486.84 L429.3,486.53 L430.3,486.22 L431.3,485.91 L432.3,485.60 L433.3,485.29 L434.3,484.99 L435.3,484.68 L436.3,484.38 L437.3,484.07 L438.3,483.77 L439.3,483.47 L440.3,483.17 L441.3,482.88 L442.3,482.58 L443.3,482.29 L444.3,482.00 L445.3,481.71 L446.3,481.42 L447.3,481.13 L448.3,480.84 L449.3,480.56 L450.3,480.28 L451.3,480.00 L452.3,479.72 L453.3,479.45 L454.3,479.18 L455.3,478.91 L456.3,478.64 L457.3,478.37 L458.3,478.11 L459.3,477.85 L460.3,477.59 L461.3,477.34 L462.3,477.09 L463.3,476.84 L464.3,476.59 L465.3,476.35 L466.3,476.11 L467.3,475.88 L468.3,475.64 L469.3,475.42 L470.3,475.19 L471.3,474.97 L472.3,474.76 L473.3,474.55 L474.3,474.34 L475.3,474.14 L476.3,473.94 L477.3,473.75 L478.3,473.56 L479.3,473.38 L480.3,473.20 L481.3,473.03 L482.3,472.86 L483.3,472.70 L484.3,472.55 L485.3,472.40 L486.3,472.26 L487.3,472.13 L488.3,472.00 L489.3,471.88 L490.3,471.77 L491.3,471.66 L492.3,471.57 L493.3,471.48 L494.3,471.40 L495.3,471.33 L496.3,471.27 L497.3,471.22 L498.3,471.18 L499.3,471.15 L500.3,471.12 L501.3,471.11 L502.3,471.12 L503.3,471.13 L504.3,471.15" fill="none" stroke="#f00c0c" stroke-width="3.4" stroke-linejoin="round"/>
<path d="M88.3,602.12 L89.3,601.78 L90.3,601.44 L91.3,601.10 L92.3,600.76 L93.3,600.42 L94.3,600.08 L95.3,599.73 L96.3,599.39 L97.3,599.05 L98.3,598.71 L99.3,598.37 L100.3,598.03 L101.3,597.69 L102.3,597.35 L103.3,597.00 L104.3,596.66 L105.3,596.32 L106.3,595.98 L107.3,595.64 L108.3,595.30 L109.3,594.96 L110.3,594.62 L111.3,594.27 L112.3,593.93 L113.3,593.59 L114.3,593.25 L115.3,592.91 L116.3,592.57 L117.3,592.23 L118.3,591.89 L119.3,591.55 L120.3,591.20 L121.3,590.86 L122.3,590.52 L123.3,590.18 L124.3,589.84 L125.3,589.50 L126.3,589.16 L127.3,588.82 L128.3,588.48 L129.3,588.14 L130.3,587.79 L131.3,587.45 L132.3,587.11 L133.3,586.77 L134.3,586.43 L135.3,586.09 L136.3,585.75 L137.3,585.41 L138.3,585.07 L139.3,584.73 L140.3,584.39 L141.3,584.05 L142.3,583.70 L143.3,583.36 L144.3,583.02 L145.3,582.68 L146.3,582.34 L147.3,582.00 L148.3,581.66 L149.3,581.32 L150.3,580.98 L151.3,580.64 L152.3,580.30 L153.3,579.96 L154.3,579.62 L155.3,579.28 L156.3,578.94 L157.3,578.60 L158.3,578.26 L159.3,577.91 L160.3,577.57 L161.3,577.23 L162.3,576.89 L163.3,576.55 L164.3,576.21 L165.3,575.87 L166.3,575.53 L167.3,575.19 L168.3,574.85 L169.3,574.51 L170.3,574.17 L171.3,573.83 L172.3,573.49 L173.3,573.15 L174.3,572.81 L175.3,572.47 L176.3,572.13 L177.3,571.79 L178.3,571.45 L179.3,571.12 L180.3,570.78 L181.3,570.44 L182.3,570.10 L183.3,569.76 L184.3,569.42 L185.3,569.08 L186.3,568.74 L187.3,568.40 L188.3,568.06 L189.3,567.72 L190.3,567.38 L191.3,567.04 L192.3,566.70 L193.3,566.37 L194.3,566.03 L195.3,565.69 L196.3,565.35 L197.3,565.01 L198.3,564.67 L199.3,564.33 L200.3,564.00 L201.3,563.66 L202.3,563.32 L203.3,562.98 L204.3,562.64 L205.3,562.30 L206.3,561.97 L207.3,561.63 L208.3,561.29 L209.3,560.95 L210.3,560.61 L211.3,560.28 L212.3,559.94 L213.3,559.60 L214.3,559.27 L215.3,558.93 L216.3,558.59 L217.3,558.25 L218.3,557.92 L219.3,557.58 L220.3,557.24 L221.3,556.91 L222.3,556.57 L223.3,556.23 L224.3,555.90 L225.3,555.56 L226.3,555.23 L227.3,554.89 L228.3,554.55 L229.3,554.22 L230.3,553.88 L231.3,553.55 L232.3,553.21 L233.3,552.88 L234.3,552.54 L235.3,552.21 L236.3,551.87 L237.3,551.54 L238.3,551.21 L239.3,550.87 L240.3,550.54 L241.3,550.20 L242.3,549.87 L243.3,549.54 L244.3,549.20 L245.3,548.87 L246.3,548.54 L247.3,548.21 L248.3,547.87 L249.3,547.54 L250.3,547.21 L251.3,546.88 L252.3,546.55 L253.3,546.22 L254.3,545.88 L255.3,545.55 L256.3,545.22 L257.3,544.89 L258.3,544.56 L259.3,544.23 L260.3,543.90 L261.3,543.57 L262.3,543.25 L263.3,542.92 L264.3,542.59 L265.3,542.26 L266.3,541.93 L267.3,541.61 L268.3,541.28 L269.3,540.95 L270.3,540.63 L271.3,540.30 L272.3,539.97 L273.3,539.65 L274.3,539.32 L275.3,539.00 L276.3,538.67 L277.3,538.35 L278.3,538.03 L279.3,537.70 L280.3,537.38 L281.3,537.06 L282.3,536.74 L283.3,536.42 L284.3,536.09 L285.3,535.77 L286.3,535.45 L287.3,535.13 L288.3,534.82 L289.3,534.50 L290.3,534.18 L291.3,533.86 L292.3,533.55 L293.3,533.23 L294.3,532.91 L295.3,532.60 L296.3,532.28 L297.3,531.97 L298.3,531.66 L299.3,531.34 L300.3,531.03 L301.3,530.72 L302.3,530.41 L303.3,530.10 L304.3,529.79 L305.3,529.48 L306.3,529.17 L307.3,528.87 L308.3,528.56 L309.3,528.26 L310.3,527.95 L311.3,527.65 L312.3,527.34 L313.3,527.04 L314.3,526.74 L315.3,526.44 L316.3,526.14 L317.3,525.84 L318.3,525.55 L319.3,525.25 L320.3,524.95 L321.3,524.66 L322.3,524.37 L323.3,524.07 L324.3,523.78 L325.3,523.49 L326.3,523.20 L327.3,522.92 L328.3,522.63 L329.3,522.35 L330.3,522.06 L331.3,521.78 L332.3,521.50 L333.3,521.22 L334.3,520.94 L335.3,520.66 L336.3,520.39 L337.3,520.11 L338.3,519.84 L339.3,519.57 L340.3,519.30 L341.3,519.03 L342.3,518.77 L343.3,518.50 L344.3,518.24 L345.3,517.98 L346.3,517.72 L347.3,517.46 L348.3,517.21 L349.3,516.95 L350.3,516.70 L351.3,516.45 L352.3,516.21 L353.3,515.96 L354.3,515.72 L355.3,515.48 L356.3,515.24 L357.3,515.00 L358.3,514.77 L359.3,514.54 L360.3,514.31 L361.3,514.08 L362.3,513.86 L363.3,513.64 L364.3,513.42 L365.3,513.20 L366.3,512.99 L367.3,512.78 L368.3,512.57 L369.3,512.37 L370.3,512.17 L371.3,511.97 L372.3,511.78 L373.3,511.59 L374.3,511.40 L375.3,511.21 L376.3,511.03 L377.3,510.86 L378.3,510.68 L379.3,510.51 L380.3,510.35 L381.3,510.19 L382.3,510.03 L383.3,509.88 L384.3,509.73 L385.3,509.58 L386.3,509.44 L387.3,509.31 L388.3,509.18 L389.3,509.05 L390.3,508.93 L391.3,508.81 L392.3,508.70 L393.3,508.59 L394.3,508.49 L395.3,508.40 L396.3,508.31 L397.3,508.22 L398.3,508.14 L399.3,508.07 L400.3,508.00 L401.3,507.94 L402.3,507.88 L403.3,507.83 L404.3,507.79 L405.3,507.76 L406.3,507.74 L407.3,507.74 L408.3,507.73 L409.3,507.73 L410.3,507.73 L411.3,507.72 L412.3,507.72 L413.3,507.75 L414.3,507.79 L415.3,507.85 L416.3,507.91 L417.3,507.96 L418.3,508.00 L419.3,508.03 L420.3,508.06 L421.3,508.08 L422.3,508.10 L423.3,508.12 L424.3,508.14 L425.3,508.16 L426.3,508.19 L427.3,508.22 L428.3,508.25 L429.3,508.30 L430.3,508.35 L431.3,508.44 L432.3,508.56 L433.3,508.70 L434.3,508.86 L435.3,509.05 L436.3,509.26 L437.3,509.48 L438.3,509.71 L439.3,509.96 L440.3,510.22 L441.3,510.49 L442.3,510.76 L443.3,511.03 L444.3,511.31 L445.3,511.58 L446.3,511.86 L447.3,512.12 L448.3,512.38 L449.3,512.66 L450.3,512.94 L451.3,513.23 L452.3,513.54 L453.3,513.85 L454.3,514.17 L455.3,514.50 L456.3,514.84 L457.3,515.18 L458.3,515.53 L459.3,515.89 L460.3,516.25 L461.3,516.62 L462.3,517.01 L463.3,517.42 L464.3,517.84 L465.3,518.27 L466.3,518.71 L467.3,519.15 L468.3,519.59 L469.3,520.04 L470.3,520.48 L471.3,520.93 L472.3,521.39 L473.3,521.85 L474.3,522.32 L475.3,522.79 L476.3,523.24 L477.3,523.69 L478.3,524.13 L479.3,524.55 L480.3,524.97 L481.3,525.37 L482.3,525.78 L483.3,526.17 L484.3,526.57 L485.3,526.95 L486.3,527.33 L487.3,527.71 L488.3,528.08 L489.3,528.45 L490.3,528.81 L491.3,529.17 L492.3,529.53 L493.3,529.88 L494.3,530.23 L495.3,530.57 L496.3,530.91 L497.3,531.24 L498.3,531.57 L499.3,531.88 L500.3,532.18 L501.3,532.47 L502.3,532.75 L503.3,533.02 L504.3,533.28" fill="none" stroke="#55ee11" stroke-width="3.4" stroke-linejoin="round"/>
<path d="M88.3,602.16 L89.3,601.82 L90.3,601.48 L91.3,601.14 L92.3,600.80 L93.3,600.46 L94.3,600.12 L95.3,599.78 L96.3,599.44 L97.3,599.10 L98.3,598.76 L99.3,598.42 L100.3,598.08 L101.3,597.73 L102.3,597.39 L103.3,597.05 L104.3,596.71 L105.3,596.37 L106.3,596.03 L107.3,595.69 L108.3,595.35 L109.3,595.01 L110.3,594.67 L111.3,594.33 L112.3,593.99 L113.3,593.65 L114.3,593.32 L115.3,592.98 L116.3,592.64 L117.3,592.30 L118.3,591.96 L119.3,591.62 L120.3,591.28 L121.3,590.94 L122.3,590.60 L123.3,590.26 L124.3,589.92 L125.3,589.58 L126.3,589.24 L127.3,588.90 L128.3,588.56 L129.3,588.22 L130.3,587.89 L131.3,587.55 L132.3,587.21 L133.3,586.87 L134.3,586.53 L135.3,586.19 L136.3,585.85 L137.3,585.51 L138.3,585.18 L139.3,584.84 L140.3,584.50 L141.3,584.16 L142.3,583.82 L143.3,583.49 L144.3,583.15 L145.3,582.81 L146.3,582.47 L147.3,582.13 L148.3,581.80 L149.3,581.46 L150.3,581.12 L151.3,580.78 L152.3,580.45 L153.3,580.11 L154.3,579.77 L155.3,579.44 L156.3,579.10 L157.3,578.76 L158.3,578.43 L159.3,578.09 L160.3,577.75 L161.3,577.42 L162.3,577.08 L163.3,576.74 L164.3,576.41 L165.3,576.07 L166.3,575.74 L167.3,575.40 L168.3,575.07 L169.3,574.73 L170.3,574.40 L171.3,574.06 L172.3,573.73 L173.3,573.39 L174.3,573.06 L175.3,572.72 L176.3,572.39 L177.3,572.05 L178.3,571.72 L179.3,571.39 L180.3,571.05 L181.3,570.72 L182.3,570.39 L183.3,570.05 L184.3,569.72 L185.3,569.39 L186.3,569.06 L187.3,568.72 L188.3,568.39 L189.3,568.06 L190.3,567.73 L191.3,567.40 L192.3,567.07 L193.3,566.74 L194.3,566.41 L195.3,566.08 L196.3,565.75 L197.3,565.42 L198.3,565.09 L199.3,564.76 L200.3,564.43 L201.3,564.10 L202.3,563.77 L203.3,563.44 L204.3,563.12 L205.3,562.79 L206.3,562.46 L207.3,562.14 L208.3,561.81 L209.3,561.48 L210.3,561.16 L211.3,560.83 L212.3,560.51 L213.3,560.18 L214.3,559.86 L215.3,559.53 L216.3,559.21 L217.3,558.89 L218.3,558.57 L219.3,558.24 L220.3,557.92 L221.3,557.60 L222.3,557.28 L223.3,556.96 L224.3,556.64 L225.3,556.32 L226.3,556.00 L227.3,555.68 L228.3,555.37 L229.3,555.05 L230.3,554.73 L231.3,554.42 L232.3,554.10 L233.3,553.78 L234.3,553.47 L235.3,553.16 L236.3,552.84 L237.3,552.53 L238.3,552.22 L239.3,551.91 L240.3,551.60 L241.3,551.29 L242.3,550.98 L243.3,550.67 L244.3,550.36 L245.3,550.06 L246.3,549.75 L247.3,549.44 L248.3,549.14 L249.3,548.84 L250.3,548.53 L251.3,548.23 L252.3,547.93 L253.3,547.63 L254.3,547.33 L255.3,547.03 L256.3,546.74 L257.3,546.44 L258.3,546.14 L259.3,545.85 L260.3,545.56 L261.3,545.27 L262.3,544.97 L263.3,544.69 L264.3,544.40 L265.3,544.11 L266.3,543.82 L267.3,543.54 L268.3,543.25 L269.3,542.97 L270.3,542.69 L271.3,542.41 L272.3,542.13 L273.3,541.86 L274.3,541.58 L275.3,541.31 L276.3,541.04 L277.3,540.77 L278.3,540.50 L279.3,540.23 L280.3,539.96 L281.3,539.70 L282.3,539.44 L283.3,539.18 L284.3,538.92 L285.3,538.66 L286.3,538.41 L287.3,538.15 L288.3,537.90 L289.3,537.65 L290.3,537.41 L291.3,537.16 L292.3,536.92 L293.3,536.68 L294.3,536.44 L295.3,536.20 L296.3,535.97 L297.3,535.74 L298.3,535.51 L299.3,535.29 L300.3,535.06 L301.3,534.84 L302.3,534.62 L303.3,534.41 L304.3,534.20 L305.3,533.99 L306.3,533.78 L307.3,533.58 L308.3,533.38 L309.3,533.18 L310.3,532.99 L311.3,532.80 L312.3,532.61 L313.3,532.43 L314.3,532.25 L315.3,532.07 L316.3,531.90 L317.3,531.73 L318.3,531.57 L319.3,531.41 L320.3,531.25 L321.3,531.10 L322.3,530.95 L323.3,530.81 L324.3,530.67 L325.3,530.53 L326.3,530.40 L327.3,530.27 L328.3,530.16 L329.3,530.04 L330.3,529.93 L331.3,529.82 L332.3,529.72 L333.3,529.63 L334.3,529.54 L335.3,529.46 L336.3,529.38 L337.3,529.30 L338.3,529.24 L339.3,529.18 L340.3,529.13 L341.3,529.09 L342.3,529.05 L343.3,529.01 L344.3,528.98 L345.3,528.96 L346.3,528.96 L347.3,528.96 L348.3,528.97 L349.3,528.99 L350.3,529.00 L351.3,529.02 L352.3,529.05 L353.3,529.08 L354.3,529.14 L355.3,529.21 L356.3,529.28 L357.3,529.36 L358.3,529.45 L359.3,529.54 L360.3,529.66 L361.3,529.78 L362.3,529.91 L363.3,530.05 L364.3,530.20 L365.3,530.36 L366.3,530.54 L367.3,530.72 L368.3,530.92 L369.3,531.13 L370.3,531.35 L371.3,531.58 L372.3,531.83 L373.3,532.10 L374.3,532.37 L375.3,532.66 L376.3,532.96 L377.3,533.28 L378.3,533.61 L379.3,533.96 L380.3,534.32 L381.3,534.70 L382.3,535.09 L383.3,535.50 L384.3,535.93 L385.3,536.38 L386.3,536.85 L387.3,537.33 L388.3,537.82 L389.3,538.34 L390.3,538.88 L391.3,539.44 L392.3,540.02 L393.3,540.62 L394.3,541.24 L395.3,541.88 L396.3,542.55 L397.3,543.24 L398.3,543.95 L399.3,544.68 L400.3,545.44 L401.3,546.22 L402.3,547.03 L403.3,547.86 L404.3,548.73 L405.3,549.61 L406.3,550.53 L407.3,551.47 L408.3,552.44 L409.3,553.45 L410.3,554.48 L411.3,555.55 L412.3,556.64 L413.3,557.76 L414.3,558.93 L415.3,560.12 L416.3,561.35 L417.3,562.62 L418.3,563.92 L419.3,565.25 L420.3,566.63 L421.3,568.05 L422.3,569.50 L423.3,571.00 L424.3,572.53 L425.3,574.14 L426.3,575.81 L427.3,577.52 L428.3,579.24 L429.3,580.95 L430.3,582.62 L431.3,584.25 L432.3,585.84 L433.3,587.41 L434.3,588.99 L435.3,590.59 L436.3,592.23 L437.3,593.93 L438.3,595.70 L439.3,597.57 L440.3,599.55 L441.3,601.61 L442.3,603.75 L443.3,605.97 L444.3,608.24 L445.3,610.57 L446.3,612.93 L447.3,615.32 L448.3,617.80 L449.3,620.37 L450.3,622.99 L451.3,625.66 L452.3,628.36 L453.3,631.06 L454.3,633.75 L455.3,636.47 L456.3,639.23 L457.3,642.01 L458.3,644.78 L459.3,647.54 L460.3,650.26 L461.3,652.90 L462.3,655.42 L463.3,657.86 L464.3,660.28 L465.3,662.72 L466.3,665.26 L467.3,667.92 L468.3,670.78 L469.3,673.88 L470.3,677.30 L471.3,681.10 L472.3,685.20 L473.3,689.52 L474.3,694.01 L475.3,698.58 L476.3,703.17 L477.3,707.77 L478.3,712.55 L479.3,717.49 L480.3,722.52 L481.3,727.59" fill="none" stroke="#1133ee" stroke-width="3.4" stroke-linejoin="round"/>
<path d="M88.3,602.22 L89.3,601.88 L90.3,601.54 L91.3,601.20 L92.3,600.86 L93.3,600.52 L94.3,600.19 L95.3,599.85 L96.3,599.51 L97.3,599.17 L98.3,598.83 L99.3,598.49 L100.3,598.15 L101.3,597.81 L102.3,597.48 L103.3,597.14 L104.3,596.80 L105.3,596.46 L106.3,596.12 L107.3,595.79 L108.3,595.45 L109.3,595.11 L110.3,594.77 L111.3,594.43 L112.3,594.10 L113.3,593.76 L114.3,593.42 L115.3,593.08 L116.3,592.75 L117.3,592.41 L118.3,592.07 L119.3,591.74 L120.3,591.40 L121.3,591.06 L122.3,590.73 L123.3,590.39 L124.3,590.05 L125.3,589.72 L126.3,589.38 L127.3,589.04 L128.3,588.71 L129.3,588.37 L130.3,588.04 L131.3,587.70 L132.3,587.37 L133.3,587.03 L134.3,586.70 L135.3,586.36 L136.3,586.03 L137.3,585.69 L138.3,585.36 L139.3,585.02 L140.3,584.69 L141.3,584.36 L142.3,584.02 L143.3,583.69 L144.3,583.36 L145.3,583.02 L146.3,582.69 L147.3,582.36 L148.3,582.02 L149.3,581.69 L150.3,581.36 L151.3,581.03 L152.3,580.70 L153.3,580.36 L154.3,580.03 L155.3,579.70 L156.3,579.37 L157.3,579.04 L158.3,578.71 L159.3,578.38 L160.3,578.05 L161.3,577.72 L162.3,577.39 L163.3,577.06 L164.3,576.73 L165.3,576.40 L166.3,576.08 L167.3,575.75 L168.3,575.42 L169.3,575.09 L170.3,574.77 L171.3,574.44 L172.3,574.11 L173.3,573.79 L174.3,573.46 L175.3,573.14 L176.3,572.81 L177.3,572.49 L178.3,572.16 L179.3,571.84 L180.3,571.52 L181.3,571.19 L182.3,570.87 L183.3,570.55 L184.3,570.23 L185.3,569.91 L186.3,569.59 L187.3,569.27 L188.3,568.95 L189.3,568.63 L190.3,568.31 L191.3,567.99 L192.3,567.67 L193.3,567.36 L194.3,567.04 L195.3,566.72 L196.3,566.41 L197.3,566.09 L198.3,565.78 L199.3,565.47 L200.3,565.15 L201.3,564.84 L202.3,564.53 L203.3,564.22 L204.3,563.91 L205.3,563.60 L206.3,563.29 L207.3,562.98 L208.3,562.67 L209.3,562.37 L210.3,562.06 L211.3,561.76 L212.3,561.45 L213.3,561.15 L214.3,560.85 L215.3,560.55 L216.3,560.25 L217.3,559.95 L218.3,559.65 L219.3,559.35 L220.3,559.05 L221.3,558.76 L222.3,558.46 L223.3,558.17 L224.3,557.88 L225.3,557.58 L226.3,557.29 L227.3,557.00 L228.3,556.72 L229.3,556.43 L230.3,556.14 L231.3,555.86 L232.3,555.58 L233.3,555.29 L234.3,555.01 L235.3,554.74 L236.3,554.46 L237.3,554.18 L238.3,553.91 L239.3,553.63 L240.3,553.36 L241.3,553.09 L242.3,552.82 L243.3,552.56 L244.3,552.29 L245.3,552.03 L246.3,551.77 L247.3,551.51 L248.3,551.25 L249.3,550.99 L250.3,550.74 L251.3,550.49 L252.3,550.24 L253.3,549.99 L254.3,549.74 L255.3,549.50 L256.3,549.26 L257.3,549.02 L258.3,548.78 L259.3,548.55 L260.3,548.31 L261.3,548.08 L262.3,547.86 L263.3,547.63 L264.3,547.41 L265.3,547.19 L266.3,546.97 L267.3,546.76 L268.3,546.55 L269.3,546.34 L270.3,546.14 L271.3,545.93 L272.3,545.73 L273.3,545.54 L274.3,545.35 L275.3,545.16 L276.3,544.97 L277.3,544.79 L278.3,544.61 L279.3,544.44 L280.3,544.27 L281.3,544.10 L282.3,543.94 L283.3,543.78 L284.3,543.62 L285.3,543.47 L286.3,543.32 L287.3,543.18 L288.3,543.04 L289.3,542.91 L290.3,542.78 L291.3,542.66 L292.3,542.54 L293.3,542.43 L294.3,542.32 L295.3,542.22 L296.3,542.12 L297.3,542.03 L298.3,541.94 L299.3,541.86 L300.3,541.78 L301.3,541.71 L302.3,541.65 L303.3,541.59 L304.3,541.54 L305.3,541.50 L306.3,541.46 L307.3,541.43 L308.3,541.41 L309.3,541.39 L310.3,541.39 L311.3,541.39 L312.3,541.39 L313.3,541.41 L314.3,541.43 L315.3,541.46 L316.3,541.50 L317.3,541.55 L318.3,541.60 L319.3,541.67 L320.3,541.74 L321.3,541.83 L322.3,541.92 L323.3,542.02 L324.3,542.14 L325.3,542.26 L326.3,542.39 L327.3,542.54 L328.3,542.70 L329.3,542.86 L330.3,543.04 L331.3,543.23 L332.3,543.43 L333.3,543.65 L334.3,543.87 L335.3,544.11 L336.3,544.37 L337.3,544.63 L338.3,544.91 L339.3,545.21 L340.3,545.52 L341.3,545.84 L342.3,546.18 L343.3,546.53 L344.3,546.90 L345.3,547.28 L346.3,547.69 L347.3,548.10 L348.3,548.54 L349.3,548.99 L350.3,549.46 L351.3,549.95 L352.3,550.46 L353.3,550.99 L354.3,551.53 L355.3,552.10 L356.3,552.68 L357.3,553.29 L358.3,553.92 L359.3,554.57 L360.3,555.25 L361.3,555.94 L362.3,556.66 L363.3,557.40 L364.3,558.17 L365.3,558.97 L366.3,559.78 L367.3,560.63 L368.3,561.50 L369.3,562.40 L370.3,563.33 L371.3,564.28 L372.3,565.27 L373.3,566.28 L374.3,567.32 L375.3,568.40 L376.3,569.51 L377.3,570.65 L378.3,571.82 L379.3,573.03 L380.3,574.28 L381.3,575.55 L382.3,576.87 L383.3,578.22 L384.3,579.61 L385.3,581.04 L386.3,582.51 L387.3,584.02 L388.3,585.58 L389.3,587.17 L390.3,588.81 L391.3,590.49 L392.3,592.22 L393.3,594.00 L394.3,595.82 L395.3,597.69 L396.3,599.62 L397.3,601.59 L398.3,603.62 L399.3,605.69 L400.3,607.83 L401.3,610.02 L402.3,612.26 L403.3,614.57 L404.3,616.93 L405.3,619.36 L406.3,621.84 L407.3,624.39 L408.3,627.01 L409.3,629.69 L410.3,632.44 L411.3,635.26 L412.3,638.16 L413.3,641.12 L414.3,644.16 L415.3,647.28 L416.3,650.47 L417.3,653.74 L418.3,657.10 L419.3,660.53 L420.3,664.06 L421.3,667.67 L422.3,671.37 L423.3,675.16 L424.3,679.04 L425.3,683.02 L426.3,687.09 L427.3,691.27 L428.3,695.55 L429.3,699.93 L430.3,704.42 L431.3,709.01 L432.3,713.72 L433.3,718.54 L434.3,723.48 L435.3,728.54" fill="none" stroke="#aa33ee" stroke-width="3.4" stroke-linejoin="round"/>
<path d="M88.3,602.30 L89.3,601.97 L90.3,601.63 L91.3,601.29 L92.3,600.95 L93.3,600.62 L94.3,600.28 L95.3,599.94 L96.3,599.61 L97.3,599.27 L98.3,598.93 L99.3,598.60 L100.3,598.26 L101.3,597.93 L102.3,597.59 L103.3,597.25 L104.3,596.92 L105.3,596.58 L106.3,596.25 L107.3,595.91 L108.3,595.58 L109.3,595.24 L110.3,594.91 L111.3,594.57 L112.3,594.24 L113.3,593.90 L114.3,593.57 L115.3,593.24 L116.3,592.90 L117.3,592.57 L118.3,592.24 L119.3,591.90 L120.3,591.57 L121.3,591.24 L122.3,590.90 L123.3,590.57 L124.3,590.24 L125.3,589.91 L126.3,589.58 L127.3,589.24 L128.3,588.91 L129.3,588.58 L130.3,588.25 L131.3,587.92 L132.3,587.59 L133.3,587.26 L134.3,586.93 L135.3,586.60 L136.3,586.27 L137.3,585.94 L138.3,585.61 L139.3,585.28 L140.3,584.96 L141.3,584.63 L142.3,584.30 L143.3,583.97 L144.3,583.65 L145.3,583.32 L146.3,582.99 L147.3,582.67 L148.3,582.34 L149.3,582.02 L150.3,581.69 L151.3,581.37 L152.3,581.04 L153.3,580.72 L154.3,580.40 L155.3,580.07 L156.3,579.75 L157.3,579.43 L158.3,579.11 L159.3,578.79 L160.3,578.47 L161.3,578.14 L162.3,577.83 L163.3,577.51 L164.3,577.19 L165.3,576.87 L166.3,576.55 L167.3,576.23 L168.3,575.92 L169.3,575.60 L170.3,575.29 L171.3,574.97 L172.3,574.66 L173.3,574.34 L174.3,574.03 L175.3,573.72 L176.3,573.41 L177.3,573.09 L178.3,572.78 L179.3,572.47 L180.3,572.17 L181.3,571.86 L182.3,571.55 L183.3,571.24 L184.3,570.94 L185.3,570.63 L186.3,570.33 L187.3,570.02 L188.3,569.72 L189.3,569.42 L190.3,569.12 L191.3,568.82 L192.3,568.52 L193.3,568.22 L194.3,567.93 L195.3,567.63 L196.3,567.34 L197.3,567.04 L198.3,566.75 L199.3,566.46 L200.3,566.17 L201.3,565.88 L202.3,565.59 L203.3,565.30 L204.3,565.02 L205.3,564.73 L206.3,564.45 L207.3,564.17 L208.3,563.89 L209.3,563.61 L210.3,563.33 L211.3,563.05 L212.3,562.78 L213.3,562.50 L214.3,562.23 L215.3,561.96 L216.3,561.69 L217.3,561.43 L218.3,561.16 L219.3,560.90 L220.3,560.63 L221.3,560.37 L222.3,560.12 L223.3,559.86 L224.3,559.60 L225.3,559.35 L226.3,559.10 L227.3,558.85 L228.3,558.61 L229.3,558.36 L230.3,558.12 L231.3,557.88 L232.3,557.64 L233.3,557.41 L234.3,557.18 L235.3,556.95 L236.3,556.72 L237.3,556.49 L238.3,556.27 L239.3,556.05 L240.3,555.83 L241.3,555.62 L242.3,555.41 L243.3,555.20 L244.3,554.99 L245.3,554.79 L246.3,554.59 L247.3,554.39 L248.3,554.20 L249.3,554.01 L250.3,553.83 L251.3,553.64 L252.3,553.46 L253.3,553.29 L254.3,553.12 L255.3,552.95 L256.3,552.79 L257.3,552.63 L258.3,552.47 L259.3,552.32 L260.3,552.17 L261.3,552.03 L262.3,551.89 L263.3,551.76 L264.3,551.63 L265.3,551.50 L266.3,551.38 L267.3,551.27 L268.3,551.16 L269.3,551.05 L270.3,550.96 L271.3,550.86 L272.3,550.78 L273.3,550.69 L274.3,550.62 L275.3,550.55 L276.3,550.48 L277.3,550.42 L278.3,550.37 L279.3,550.33 L280.3,550.29 L281.3,550.26 L282.3,550.23 L283.3,550.22 L284.3,550.21 L285.3,550.21 L286.3,550.21 L287.3,550.22 L288.3,550.24 L289.3,550.27 L290.3,550.31 L291.3,550.36 L292.3,550.41 L293.3,550.48 L294.3,550.55 L295.3,550.63 L296.3,550.72 L297.3,550.82 L298.3,550.94 L299.3,551.06 L300.3,551.19 L301.3,551.33 L302.3,551.49 L303.3,551.65 L304.3,551.83 L305.3,552.02 L306.3,552.22 L307.3,552.43 L308.3,552.65 L309.3,552.89 L310.3,553.14 L311.3,553.41 L312.3,553.68 L313.3,553.97 L314.3,554.28 L315.3,554.60 L316.3,554.94 L317.3,555.29 L318.3,555.65 L319.3,556.03 L320.3,556.43 L321.3,556.85 L322.3,557.28 L323.3,557.73 L324.3,558.20 L325.3,558.68 L326.3,559.19 L327.3,559.71 L328.3,560.25 L329.3,560.81 L330.3,561.40 L331.3,562.00 L332.3,562.63 L333.3,563.27 L334.3,563.94 L335.3,564.64 L336.3,565.35 L337.3,566.09 L338.3,566.85 L339.3,567.64 L340.3,568.46 L341.3,569.30 L342.3,570.16 L343.3,571.06 L344.3,571.98 L345.3,572.93 L346.3,573.91 L347.3,574.92 L348.3,575.95 L349.3,577.02 L350.3,578.13 L351.3,579.26 L352.3,580.43 L353.3,581.63 L354.3,582.87 L355.3,584.14 L356.3,585.45 L357.3,586.80 L358.3,588.18 L359.3,589.60 L360.3,591.07 L361.3,592.57 L362.3,594.11 L363.3,595.70 L364.3,597.33 L365.3,599.01 L366.3,600.73 L367.3,602.50 L368.3,604.31 L369.3,606.17 L370.3,608.09 L371.3,610.05 L372.3,612.07 L373.3,614.14 L374.3,616.26 L375.3,618.44 L376.3,620.67 L377.3,622.97 L378.3,625.32 L379.3,627.73 L380.3,630.21 L381.3,632.75 L382.3,635.35 L383.3,638.02 L384.3,640.76 L385.3,643.57 L386.3,646.45 L387.3,649.40 L388.3,652.43 L389.3,655.53 L390.3,658.71 L391.3,661.97 L392.3,665.31 L393.3,668.73 L394.3,672.24 L395.3,675.83 L396.3,679.51 L397.3,683.29 L398.3,687.15 L399.3,691.11 L400.3,695.17 L401.3,699.33 L402.3,703.59 L403.3,707.95 L404.3,712.42 L405.3,717.00 L406.3,721.68 L407.3,726.48" fill="none" stroke="#66f0cc" stroke-width="3.4" stroke-linejoin="round"/>
</g>
<g fill="none" stroke="#60d8bc" stroke-width="1.25" opacity="0.9"><circle cx="296.56" cy="550.60" r="4.5"/><circle cx="327.67" cy="559.07" r="4.5"/><circle cx="345.86" cy="571.94" r="4.5"/><circle cx="358.77" cy="586.62" r="4.5"/><circle cx="368.78" cy="602.29" r="4.5"/><circle cx="376.97" cy="618.58" r="4.5"/><circle cx="383.88" cy="635.31" r="4.5"/><circle cx="389.88" cy="652.36" r="4.5"/><circle cx="395.16" cy="669.64" r="4.5"/><circle cx="399.89" cy="687.11" r="4.5"/></g>
<g fill="none" stroke="#9438cc" stroke-width="1.25" opacity="0.9"><circle cx="296.56" cy="542.25" r="4.5"/><circle cx="327.67" cy="542.36" r="4.5"/><circle cx="345.86" cy="546.88" r="4.5"/><circle cx="358.77" cy="553.21" r="4.5"/><circle cx="368.78" cy="560.53" r="4.5"/><circle cx="376.97" cy="568.47" r="4.5"/><circle cx="383.88" cy="576.85" r="4.5"/><circle cx="389.88" cy="585.54" r="4.5"/><circle cx="395.16" cy="594.47" r="4.5"/><circle cx="399.89" cy="603.59" r="4.5"/><circle cx="418.09" cy="651.07" r="4.5"/><circle cx="431.00" cy="700.35" r="4.5"/></g>
<g fill="none" stroke="#2a3ccc" stroke-width="1.25" opacity="0.9"><circle cx="296.56" cy="536.28" r="4.5"/><circle cx="327.67" cy="530.43" r="4.5"/><circle cx="345.86" cy="528.98" r="4.5"/><circle cx="358.77" cy="529.35" r="4.5"/><circle cx="368.78" cy="530.70" r="4.5"/><circle cx="376.97" cy="532.68" r="4.5"/><circle cx="383.88" cy="535.09" r="4.5"/><circle cx="389.88" cy="537.81" r="4.5"/><circle cx="395.16" cy="540.78" r="4.5"/><circle cx="399.89" cy="543.94" r="4.5"/><circle cx="418.09" cy="561.59" r="4.5"/><circle cx="431.00" cy="581.11" r="4.5"/><circle cx="449.19" cy="614.60" r="4.5"/><circle cx="456.11" cy="632.50" r="4.5"/><circle cx="462.10" cy="650.80" r="4.5"/><circle cx="472.11" cy="674.20" r="4.5"/></g>
<rect class="ax" x="88.3" y="423.0" width="416.7" height="282.5"/>
<path class="ax" d="M88.3,493.60h10.2M505.0,493.60h-10.2M88.3,564.20h10.2M505.0,564.20h-10.2M88.3,634.80h10.2M505.0,634.80h-10.2M118.31,705.5v-4.2M118.31,423.0v4.2M159.42,705.5v-4.2M159.42,423.0v4.2M180.52,705.5v-4.2M180.52,423.0v4.2M190.53,705.5v-10.2M190.53,423.0v10.2M221.64,705.5v-4.2M221.64,423.0v4.2M262.75,705.5v-4.2M262.75,423.0v4.2M283.85,705.5v-4.2M283.85,423.0v4.2M293.86,705.5v-10.2M293.86,423.0v10.2M324.97,705.5v-4.2M324.97,423.0v4.2M366.08,705.5v-4.2M366.08,423.0v4.2M387.18,705.5v-4.2M387.18,423.0v4.2M397.19,705.5v-10.2M397.19,423.0v10.2M428.30,705.5v-4.2M428.30,423.0v4.2M469.41,705.5v-4.2M469.41,423.0v4.2M490.51,705.5v-4.2M490.51,423.0v4.2M500.52,705.5v-10.2M500.52,423.0v10.2"/>
<text x="73" y="431.3" text-anchor="end">-5</text>
<text x="73" y="501.9" text-anchor="end">-6</text>
<text x="73" y="572.5" text-anchor="end">-7</text>
<text x="73" y="643.1" text-anchor="end">-8</text>
<text x="73" y="713.7" text-anchor="end">-9</text>
<text x="69.6" y="741.2">10<tspan font-size="19.4" dy="-11.3">0</tspan></text>
<text x="172.9" y="741.2">10<tspan font-size="19.4" dy="-11.3">1</tspan></text>
<text x="276.3" y="741.2">10<tspan font-size="19.4" dy="-11.3">2</tspan></text>
<text x="379.6" y="741.2">10<tspan font-size="19.4" dy="-11.3">3</tspan></text>
<text x="482.9" y="741.2">10<tspan font-size="19.4" dy="-11.3">4</tspan></text>
<text x="119.3" y="452.3">(b)</text>
<text x="225.3" y="591.9" text-anchor="end">V</text>
<path d="M240.5,583.6H310.3" stroke="#f00c0c" stroke-width="3.2" fill="none"/>
<text x="225.3" y="616.9" text-anchor="end">VI</text>
<path d="M240.5,608.6H310.3" stroke="#55ee11" stroke-width="3.2" fill="none"/>
<text x="225.3" y="641.9" text-anchor="end">VII</text>
<path d="M240.5,633.6H310.3" stroke="#1133ee" stroke-width="3.2" fill="none"/>
<text x="225.3" y="666.9" text-anchor="end">VIII</text>
<path d="M240.5,658.6H310.3" stroke="#aa33ee" stroke-width="3.2" fill="none"/>
<text x="225.3" y="691.9" text-anchor="end">IX</text>
<path d="M240.5,683.6H310.3" stroke="#66f0cc" stroke-width="3.2" fill="none"/>
<text transform="translate(20.4,562.6) rotate(-90)" text-anchor="middle">log(k<tspan font-size="19.4" dy="7">ET</tspan><tspan dy="-7">) (a.u.)</tspan></text>
<text x="257.4" y="775.6"><tspan class="sym" font-size="29.2">β</tspan><tspan x="272.8"> (a.u.)</tspan></text>
</g>
</svg></body></html>
